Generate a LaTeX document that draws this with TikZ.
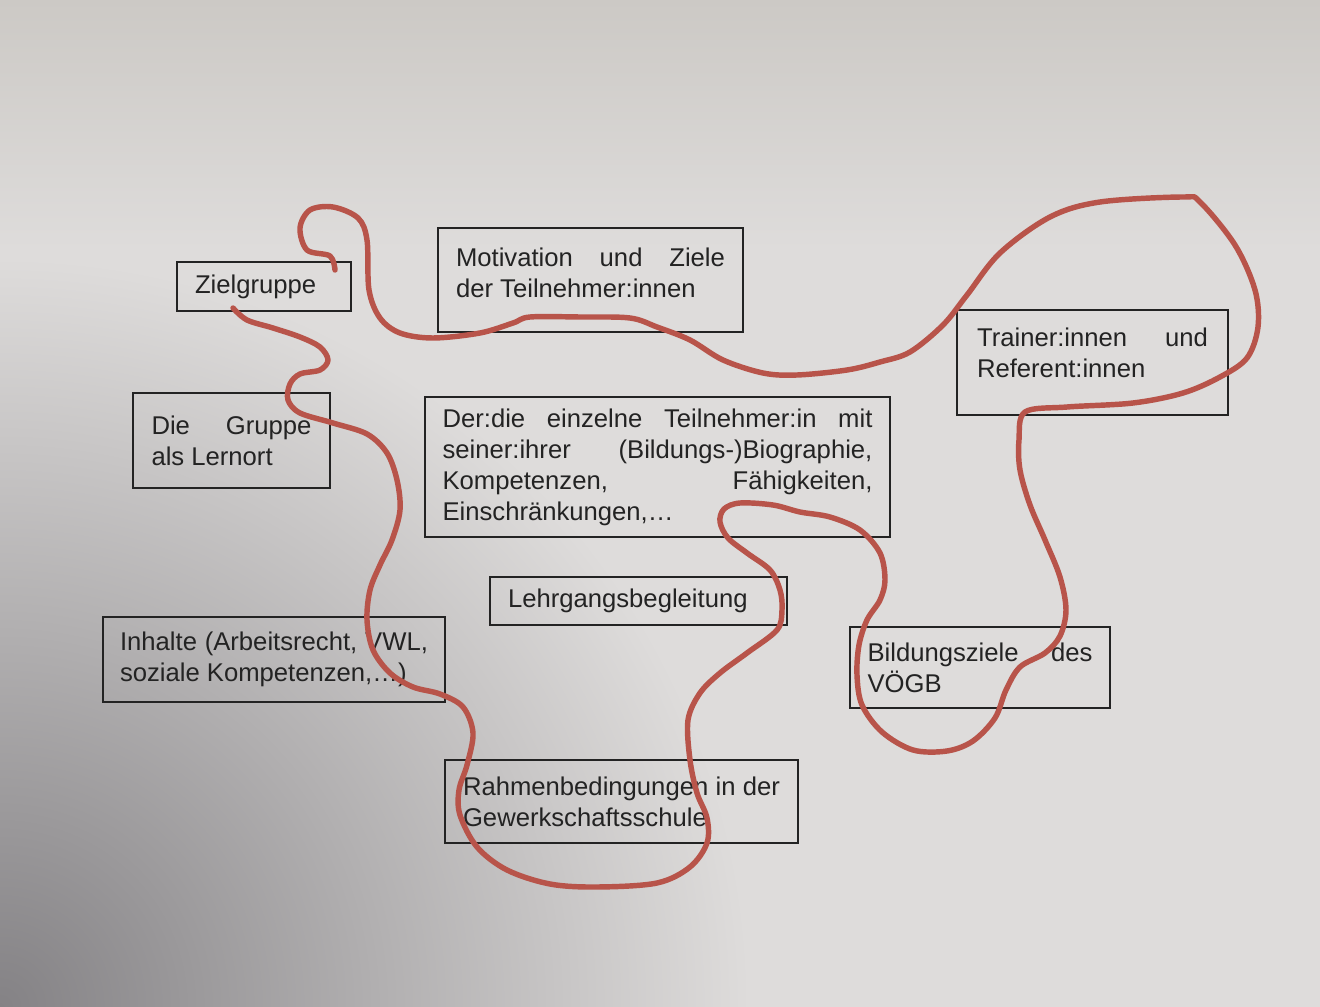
\documentclass[tikz,border=0pt]{standalone}
\usepackage{fontspec}
\setmainfont{Liberation Sans}
\usetikzlibrary{calc}

\definecolor{paper}{RGB}{222,220,219}
\definecolor{papertop}{RGB}{204,201,197}
\definecolor{papershade}{RGB}{132,130,133}
\definecolor{yarnred}{RGB}{184,84,74}
\definecolor{ink}{RGB}{35,35,35}
\hyphenpenalty=10000
\exhyphenpenalty=10000

\begin{document}
\begin{tikzpicture}[x=0.02cm,y=-0.02cm]
\tikzstyle{card}=[draw=ink,line width=0.9pt,rectangle,inner sep=0pt,text=ink,align=justify,font=\fontsize{14.6}{17.6}\selectfont]
\tikzstyle{yarn}=[draw=yarnred,line width=3.1pt,line cap=round,line join=round]
\useasboundingbox (0,0) rectangle (1320,1007);

% paper
\fill[paper] (0,0) rectangle (1320,1007);
\begin{scope}
\clip (0,0) rectangle (1320,1007);
\shade[inner color=papershade,outer color=paper] (0,1007) circle (750);
\shade[top color=papertop,bottom color=paper] (0,0) rectangle (1320,250);
\end{scope}

% boxes
\node[card,minimum width=3.48cm,minimum height=0.98cm,text width=2.76cm] (zg) at (264,286.5) {Zielgruppe};
\node[card,minimum width=6.1cm,minimum height=2.08cm,text width=5.38cm] (mot) at (590.5,280) {Motivation und Ziele\linebreak der Teilnehmer:innen\par\vspace{0.3cm}};
\node[card,minimum width=3.94cm,minimum height=1.9cm,text width=3.2cm] (grp) at (231.5,440.5) {Die Gruppe\linebreak als Lernort};
\node[card,minimum width=9.3cm,minimum height=2.8cm,text width=8.6cm] (tn) at (657.5,467) {Der:die einzelne Teilnehmer:in mit\linebreak seiner:ihrer (Bildungs-)Biographie,\linebreak Kompetenzen, Fähigkeiten,\linebreak Einschränkungen,…};
\node[card,minimum width=5.42cm,minimum height=2.1cm,text width=4.62cm] (tr) at (1092.5,362.5) {Trainer:innen und\linebreak Referent:innen\par\vspace{0.4cm}};
\node[card,minimum width=5.94cm,minimum height=0.96cm,text width=5.22cm] (lgb) at (638.5,601) {Lehrgangsbegleitung};
\node[card,minimum width=6.84cm,minimum height=1.7cm,text width=6.16cm] (inh) at (274,659.5) {Inhalte (Arbeitsrecht, VWL,\linebreak soziale Kompetenzen,…)};
\node[card,minimum width=7.06cm,minimum height=1.66cm,text width=6.34cm] (rb) at (621.5,801.5) {Rahmenbedingungen in der\linebreak Gewerkschaftsschule};
\node[card,minimum width=5.2cm,minimum height=1.62cm,text width=4.5cm] (bz) at (980,667.5) {Bildungsziele des\linebreak VÖGB};

% the red thread
\draw[yarn] plot[smooth,tension=0.55] coordinates {
(233,308) (247,320) (273,328) (300,337) (320,347) (328,360) (320,370) (300,374)
(290,384) (288,400) (300,413) (333,423) (367,434) (387,453) (397,480) (400,510)
(392,540) (380,565) (370,590) (367,620) (373,650) (390,673) (413,687) (440,694)
(463,707) (473,733) (467,765) (459,790) (460,815) (477,847) (507,870) (550,884)
(597,887) (657,883) (690,867) (707,843) (707,818) (697,793) (690,760) (688,720)
(700,693) (720,673) (747,653) (777,630) (782,610) (780,590) (770,570) (747,553)
(728,538) (720,522) (724,509) (740,503) (773,505) (800,512) (830,517) (860,530)
(880,553) (885,580) (880,600) (867,620) (859,645) (857,675) (862,705) (882,732)
(913,750) (947,751) (973,741) (995,718) (1006,690) (1020,667) (1045,653) (1060,636)
(1066,610) (1060,577) (1045,540) (1030,505) (1020,470) (1019,440) (1025,412) (1067,407)
(1133,403) (1183,393) (1220,377) (1247,358) (1258,327) (1255,290) (1235,245) (1200,202)
(1183,197) (1100,202) (1050,217) (1000,253) (967,295) (943,325) (910,352) (880,362)
(847,370) (797,375) (763,373) (723,360) (690,340) (657,327) (630,318) (580,317)
(530,317) (513,323) (480,333) (433,338) (400,333) (380,318) (369,290) (367,240)
(358,218) (333,207) (310,210) (300,228) (307,250) (330,256) (335,270)};
\end{tikzpicture}
\end{document}
